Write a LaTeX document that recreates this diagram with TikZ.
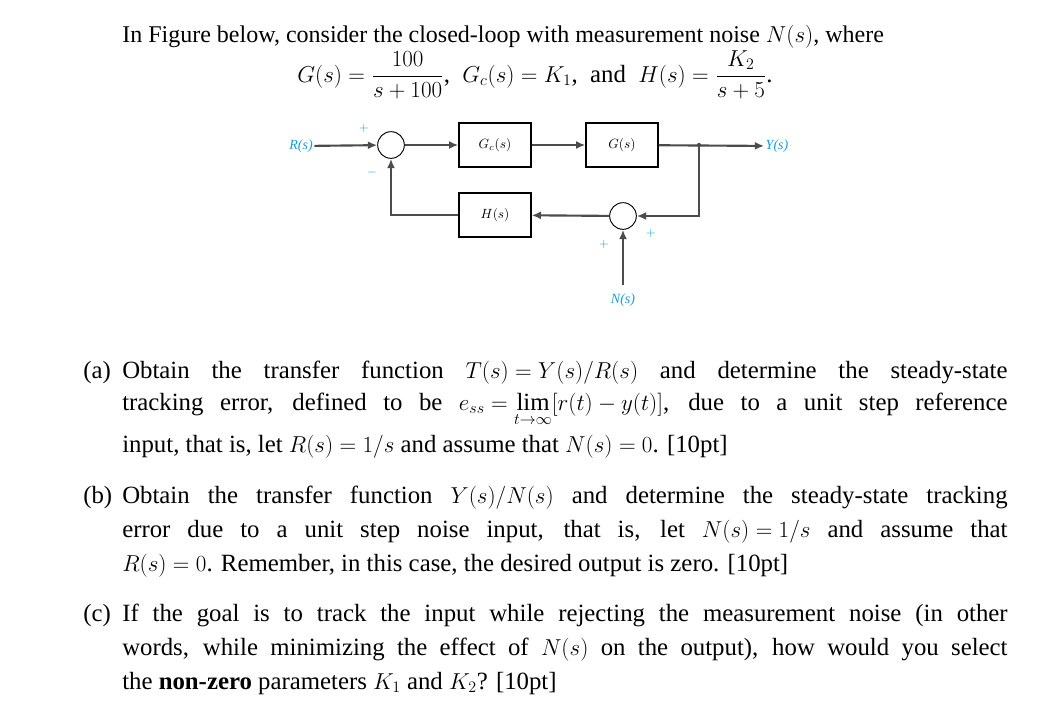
\documentclass[tikz,border=0pt]{standalone}
\usepackage{amsmath,amssymb}
\usepackage{fontspec}
\setmainfont{Liberation Serif}
\usetikzlibrary{arrows.meta,positioning}
\definecolor{sig}{RGB}{20,160,225}
\newcommand\jline[2]{\parbox{#1}{\thickmuskip=5mu\medmuskip=4mu\parfillskip=0pt\relax #2}}
\begin{document}
\begin{tikzpicture}[x=0.75pt, y=-0.75pt,
  txt/.style = {anchor=base west, inner sep=0pt, font=\fontsize{18.6}{21}\selectfont},
  blk/.style = {draw, line width=1pt, minimum width=54pt, minimum height=33pt, inner sep=0pt, font=\fontsize{10}{12}\selectfont\itshape},
  sum/.style = {draw, circle, line width=0.7pt, minimum size=20pt, inner sep=0pt},
  lbl/.style = {text=sig, font=\fontsize{10.5}{12}\selectfont\itshape, inner sep=1pt},
  sgn/.style = {text=sig, font=\fontsize{9}{10}\selectfont, inner sep=0pt},
  sigline/.style = {line width=1.6pt, draw=black!70, -{Latex[length=7pt,width=6pt]}}]
\useasboundingbox (0,0) rectangle (1042,701);
% statement
\node[txt, font=\fontsize{18}{21}\selectfont] (intro) at (122,42) {In Figure below, consider the closed-loop with measurement noise\ $N(s)$, where};
\node[inner sep=0pt, font=\fontsize{18.6}{21}\selectfont] (defs) at (535,75)
  {$G(s)=\dfrac{100}{s+100}$,\ \ $G_c(s)=K_1$,\ \ and\ \ $H(s)=\dfrac{K_2}{s+5}$.};
% block diagram
\node[lbl] (r) at (301,146) {R(s)};
\node[sum] (s1) at (391,145) {};
\node[blk] (gc) at (495,145) {$G_c(s)$};
\node[blk] (g) at (622,145) {$G(s)$};
\coordinate (br) at (699,145);
\node[lbl] (y) at (777,146) {Y(s)};
\node[blk] (h) at (495,215) {$H(s)$};
\node[sum] (s2) at (623,216) {};
\node[lbl] (n) at (623,300) {N(s)};
\coordinate (nin) at (623,285);
\node[sgn] (p1) at (364,128) {$+$};
\node[sgn] (m1) at (372,172) {$-$};
\node[sgn] (p2) at (651,233) {$+$};
\node[sgn] (p3) at (604,244) {$+$};
\draw[sigline] (r) -- (s1);
\draw[sigline] (s1) -- (gc);
\draw[sigline] (gc) -- (g);
\draw[sigline] (g) -- (y);
\draw[sigline] (br) |- (s2);
\draw[sigline] (s2) -- (h);
\draw[sigline] (h) -| (s1);
\draw[sigline] (nin) -- (s2);
\fill[black!70] (br) circle (1.6pt);
% questions
\node[txt] (qa) at (83,378) {(a)};
\node[txt] (a1) at (122,378) {\jline{664pt}{Obtain the transfer function\ $T(s)=Y(s)/R(s)$\ and determine the steady-state}};
\node[txt] (a2) at (122,410) {\jline{664pt}{tracking error, defined to be\ $e_{ss}=\smash{\lim\limits_{t\to\infty}}[r(t)-y(t)]$, due to a unit step reference}};
\node[txt] (a3) at (122,452) {input, that is, let\ $R(s)=1/s$\ and assume that\ $N(s)=0$. [10pt]};
\node[txt] (qb) at (83,503) {(b)};
\node[txt] (b1) at (122,503) {\jline{664pt}{Obtain the transfer function\ $Y(s)/N(s)$\ and determine the steady-state tracking}};
\node[txt] (b2) at (122,537) {\jline{664pt}{error due to a unit step noise input, that is, let\ $N(s)=1/s$\ and assume that}};
\node[txt] (b3) at (122,571) {$R(s)=0$. Remember, in this case, the desired output is zero. [10pt]};
\node[txt] (qc) at (83,621) {(c)};
\node[txt] (c1) at (122,621) {\jline{664pt}{If the goal is to track the input while rejecting the measurement noise (in other}};
\node[txt] (c2) at (122,655) {\jline{664pt}{words, while minimizing the effect of\ $N(s)$\ on the output), how would you select}};
\node[txt] (c3) at (122,689) {the \textbf{non-zero} parameters\ $K_1$\ and\ $K_2$? [10pt]};
\end{tikzpicture}
\end{document}
